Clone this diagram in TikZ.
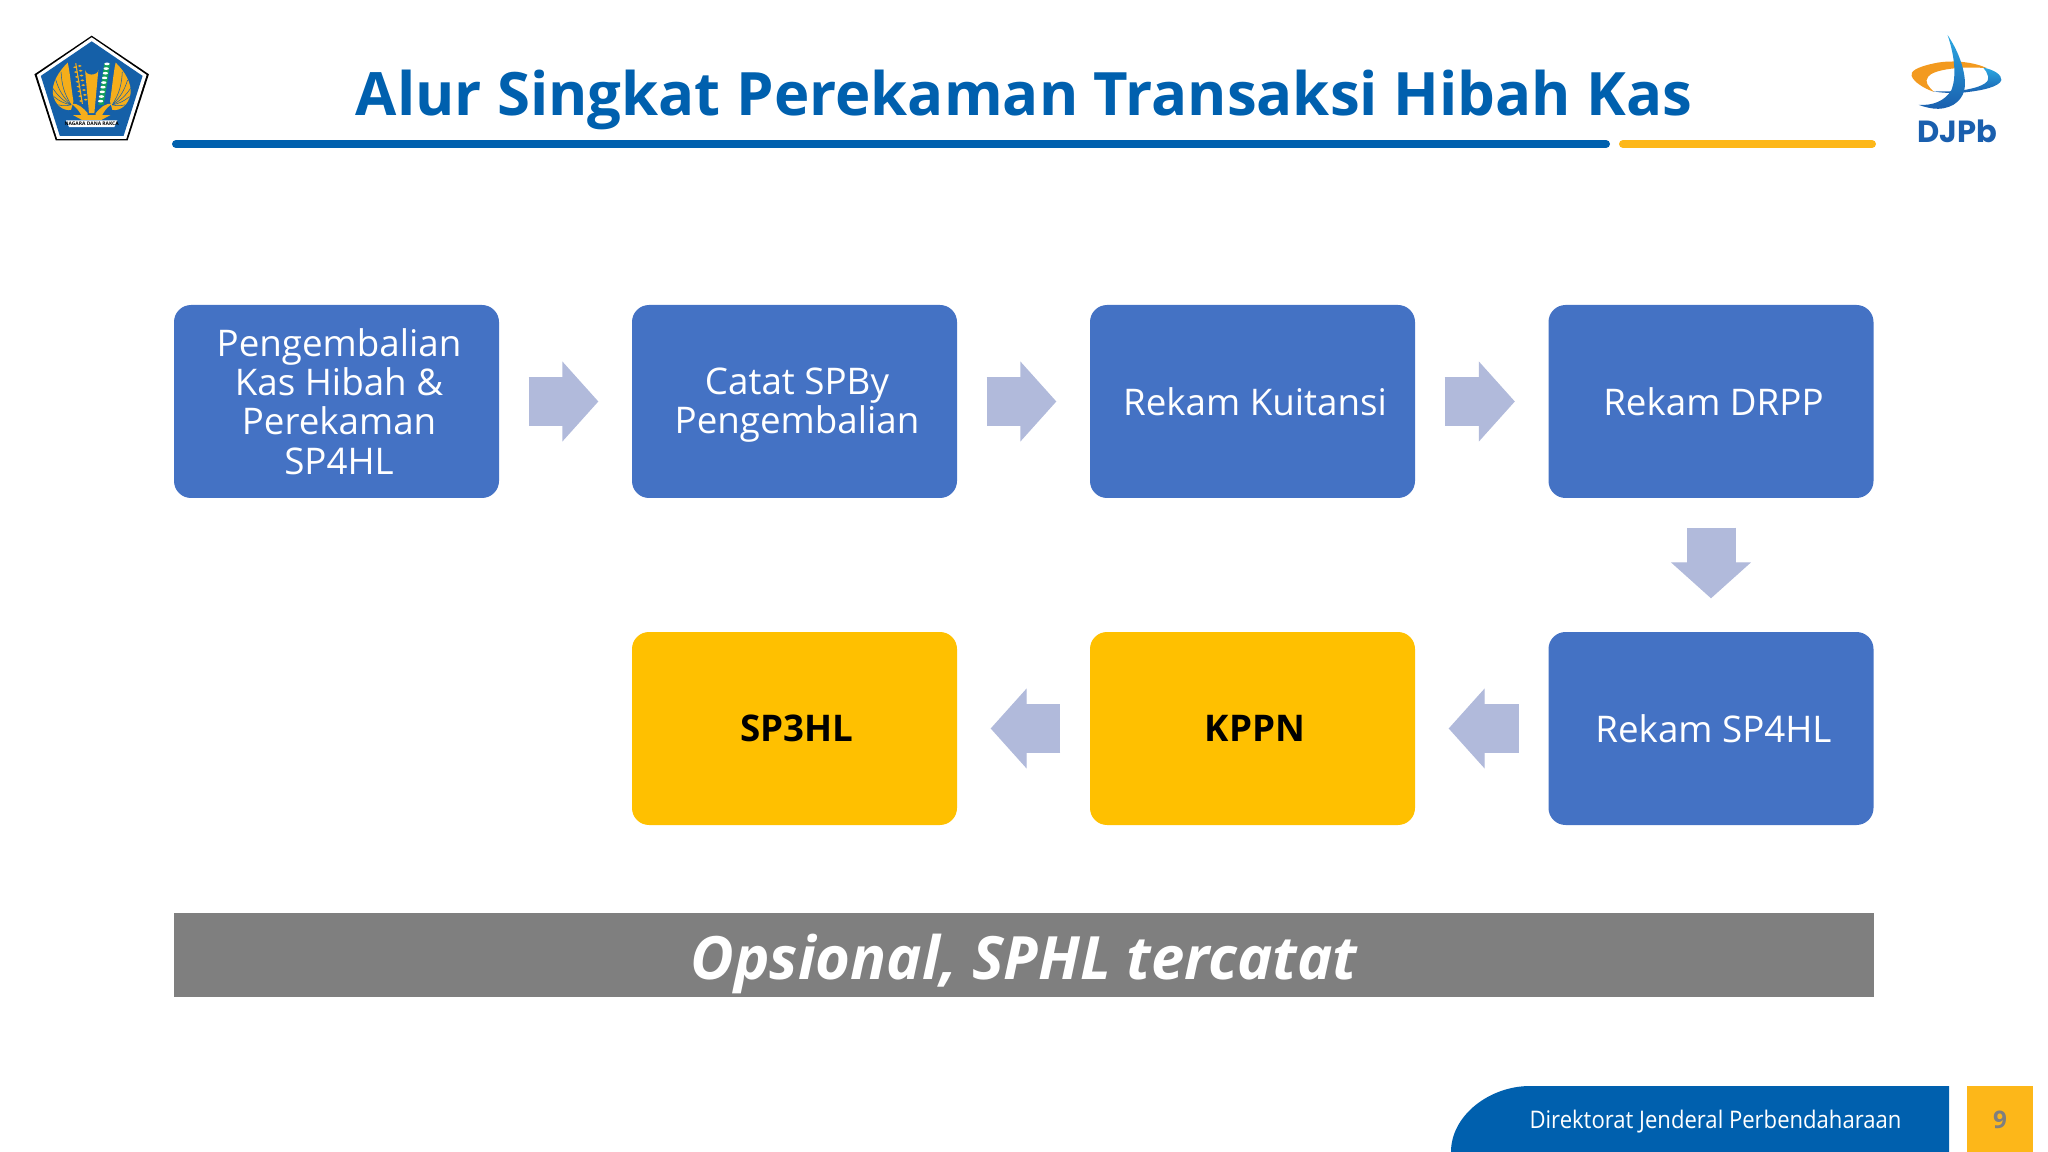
\documentclass[tikz,border=0pt]{standalone}
\usepackage{fontspec}
\setmainfont{Open Sans}
\newfontfamily\logofont{Poppins}
\usetikzlibrary{arrows.meta, calc}

\definecolor{boxblue}{HTML}{4472C4}
\definecolor{boxyellow}{HTML}{FFC000}
\definecolor{flowblue}{HTML}{B1BADB}
\definecolor{barblue}{HTML}{0060AE}
\definecolor{baryellow}{HTML}{FDB719}
\definecolor{bargray}{HTML}{7F7F7F}
\definecolor{crestblue}{HTML}{1560A8}
\definecolor{crestgold}{HTML}{F5AE1B}
\definecolor{crestgreen}{HTML}{12A05C}
\definecolor{logocyan}{HTML}{2BA8E2}
\definecolor{logoblue}{HTML}{1A5FAE}
\definecolor{logoorange}{HTML}{F39A1F}

\newcommand{\nudge}{\hspace*{0.05cm}}

\begin{document}
\begin{tikzpicture}[
  block/.style={fill=boxblue, rounded corners=0.17cm, minimum width=3.25cm, minimum height=1.93cm,
    inner sep=0pt, align=center, text=white, font=\fontsize{10.45}{11.15}\selectfont},
  gblock/.style={block, fill=boxyellow, text=black, font=\fontsize{10.45}{11.15}\selectfont\bfseries},
  flow/.style={draw=flowblue, line width=0.49cm, shorten <=0.29cm, shorten >=0.33cm,
    -{Triangle[width=0.80cm, length=0.36cm, line width=0.4pt]}},
  rule/.style={line width=0.08cm, line cap=round}]

\useasboundingbox (0,0) rectangle (20.48,-11.52);

% =================================================================================
% header
% =================================================================================
\node[anchor=base, text=barblue, font=\fontsize{17.03}{20}\selectfont\bfseries] (title) at (10.24,-1.155)
  {Alur Singkat Perekaman Transaksi Hibah Kas};
\coordinate (rb1) at (1.76,-1.44);
\coordinate (rb2) at (16.06,-1.44);
\coordinate (ry1) at (16.23,-1.44);
\coordinate (ry2) at (18.72,-1.44);
\draw[rule, barblue]   (rb1) -- (rb2);
\draw[rule, baryellow] (ry1) -- (ry2);

% =================================================================================
% crest, left
% =================================================================================
\begin{scope}[shift={(0.917,-0.30)}, x=0.003333cm, y=-0.003333cm]
\fill[black] (0,17) -- (172,133) -- (108,332) -- (-108,332) -- (-172,133) -- cycle;
\fill[white] (0,22) -- (165,135) -- (104,327) -- (-104,327) -- (-165,135) -- cycle;
\fill[crestblue] (0,34) -- (153,138) -- (96,318) -- (-96,318) -- (-153,138) -- cycle;
\foreach \s in {1,-1} {
  \begin{scope}[xscale=\s]
  \fill[crestgold] (-72,98) .. controls (-100,125) and (-120,160) .. (-117,190)
    .. controls (-112,225) and (-85,245) .. (-62,240) -- (-55,215)
    .. controls (-62,170) and (-65,130) .. (-72,98) -- cycle;
  \foreach \tx/\ty in {-92/126, -108/150, -117/175, -114/200, -100/225} {
    \draw[crestblue, line width=0.15pt] (-62,225) to[bend left=14] (\tx,\ty);
  }
  \fill[crestgold] (-28,262) .. controls (-40,238) and (-55,225) .. (-62,222)
    .. controls (-42,218) and (-25,235) .. (-12,250) -- (-12,262) -- cycle;
  \end{scope}
}
\fill[crestgold] (-20,120) arc (180:0:20 and 14) -- (8,250) -- (-8,250) -- cycle;
\fill[crestgold] (-56,256) -- (56,256) -- (30,270) -- (-30,270) -- cycle;
\draw[crestgold, line width=0.3pt] (-48,100) -- (-28,222);
\foreach \k in {0,...,7} {
  \fill[crestgold] ({-50+2.6*\k},{112+14.5*\k}) ellipse (6 and 3);
  \fill[crestgold] ({-36+2.6*\k},{108+14.5*\k}) ellipse (6 and 3);
}
\fill[crestgreen] (38,100) -- (56,100) -- (36,225) -- (20,225) -- cycle;
\foreach \k in {0,...,8} {
  \fill[white] ({46-2.4*\k},{102+14*\k}) ellipse (8 and 4);
}
\fill[white] (-77,272) -- (77,272) -- (68,292) -- (-68,292) -- cycle;
\node[font=\fontsize{1.4}{2}\selectfont\bfseries, inner sep=0pt, text=black] (motto) at (0,282) {NAGARA DANA RAKCA};
\end{scope}

% =================================================================================
% sail logo, right
% =================================================================================
\begin{scope}[shift={(19.00,-0.30)}, x=0.003333cm, y=-0.003333cm]
\fill[logoorange] (262,115) .. controls (220,95) and (150,88) .. (95,102)
  .. controls (50,112) and (30,125) .. (35,138) .. controls (40,155) and (70,175) .. (102,186)
  .. controls (85,170) and (72,155) .. (85,140) .. controls (100,118) and (190,108) .. (262,115) -- cycle;
\shade[top color=logocyan, bottom color=logoblue] (250,113) .. controls (285,120) and (305,135) .. (305,150)
  .. controls (300,170) and (250,182) .. (190,188) .. controls (160,190) and (125,190) .. (100,184)
  .. controls (140,186) and (185,184) .. (215,176) .. controls (250,168) and (270,155) .. (265,140)
  .. controls (262,130) and (258,120) .. (250,113) -- cycle;
\shade[top color=logocyan, bottom color=logoblue] (143,15) .. controls (180,70) and (198,130) .. (195,170)
  .. controls (192,205) and (165,235) .. (115,237) .. controls (95,237) and (75,232) .. (56,225)
  .. controls (95,228) and (135,215) .. (155,180) .. controls (170,140) and (165,80) .. (143,15) -- cycle;
\node[anchor=base, text=logoblue, font=\logofont\fontsize{8.7}{9}\selectfont\bfseries, inner sep=0pt] (brand) at (172,338) {DJPb};
\end{scope}

% =================================================================================
% row 1
% =================================================================================
\node[block]  (b1) at (3.365,-4.015) {\nudge Pengembalian\\\nudge Kas Hibah \&\\\nudge Perekaman\\\nudge SP4HL};
\node[block]  (b2) at (7.945,-4.015) {\nudge Catat SPBy\rule{0pt}{9.5pt}\\\nudge Pengembalian};
\node[block]  (b3) at (12.525,-4.015) {\nudge Rekam Kuitansi};
\node[block]  (b4) at (17.11,-4.015) {\nudge Rekam DRPP};

% =================================================================================
% row 2
% =================================================================================
\node[block]  (b5) at (17.11,-7.285) {\nudge Rekam SP4HL};
\node[gblock] (b6) at (12.525,-7.285) {\nudge KPPN};
\node[gblock] (b7) at (7.945,-7.285) {\nudge SP3HL};

\draw[flow] (b1) -- (b2);
\draw[flow] (b2) -- (b3);
\draw[flow] (b3) -- (b4);
\draw[flow] (b4) -- (b5);
\draw[flow] (b5) -- (b6);
\draw[flow] (b6) -- (b7);

% =================================================================================
% note and footer
% =================================================================================
\node[fill=bargray, minimum width=17.00cm, minimum height=0.84cm, inner sep=0pt] (note) at (10.235,-9.55) {};
\node[anchor=base, text=white, font=\fontsize{17}{20}\selectfont\bfseries\itshape] (notetext) at (10.24,-9.79)
  {Opsional, SPHL tercatat};

\fill[barblue] (14.51,-11.52) .. controls (14.51,-11.15) and (14.90,-10.86) .. (15.30,-10.86)
  -- (19.49,-10.86) -- (19.49,-11.52) -- cycle;
\node[anchor=base, text=white, xscale=0.91, font=\fontsize{6.9}{8}\selectfont] (foot) at (17.155,-11.28)
  {Direktorat Jenderal Perbendaharaan};
\node[fill=baryellow, minimum width=0.66cm, minimum height=0.66cm, inner sep=0pt] (page) at (20.00,-11.19) {};
\node[anchor=base, text=bargray, font=\fontsize{6.9}{8}\selectfont\bfseries] (pagenum) at (20.00,-11.28) {9};

\end{tikzpicture}
\end{document}
